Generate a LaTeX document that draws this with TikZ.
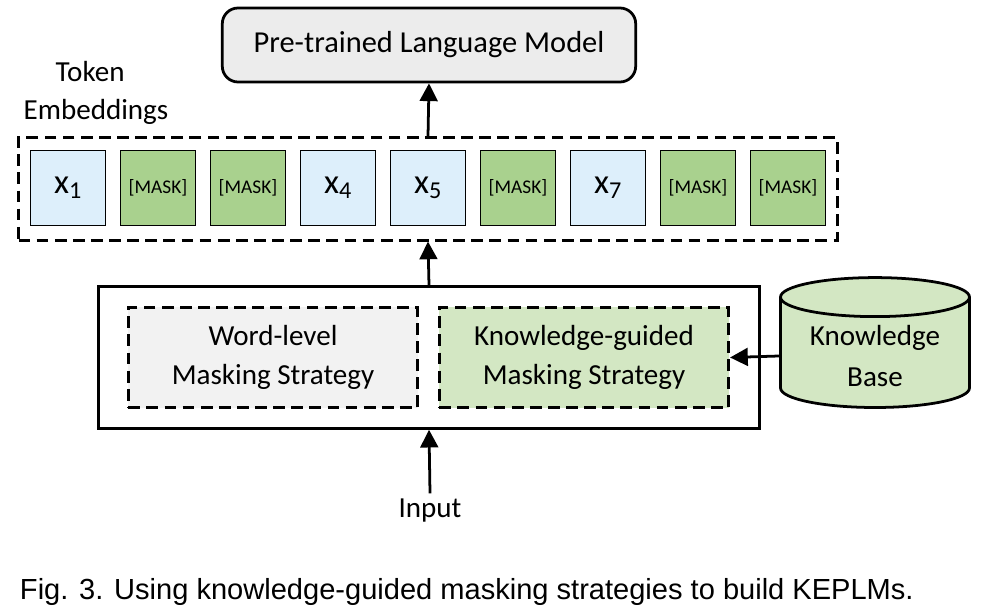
\documentclass[tikz,border=0pt]{standalone}
\usepackage{fontspec}
\setmainfont{Carlito}
\newfontfamily\capfont{Liberation Sans}
\usetikzlibrary{arrows.meta,positioning,shapes.geometric}
\definecolor{tokblue}{HTML}{DDEFFB}
\definecolor{tokgreen}{HTML}{A9D18E}
\definecolor{kggreen}{HTML}{D3E7C3}
\begin{document}
\begin{tikzpicture}[x=0.254mm,y=-0.254mm,>={Triangle[length=4.5mm,width=4.5mm]},line width=2pt,
    dsh/.style={dash pattern=on 3mm off 1.6mm},
    tok/.style={draw,line width=0.6pt,minimum width=19mm,minimum height=19mm,inner sep=0pt},
    xtok/.style={tok,fill=tokblue,font=\fontsize{25}{27}\selectfont},
    mtok/.style={tok,fill=tokgreen,font=\fontsize{14}{16}\selectfont},
    strat/.style={draw,dsh,minimum width=73.5mm,minimum height=25.5mm,align=center,font=\fontsize{21}{28}\selectfont}]
  \useasboundingbox (0,0) rectangle (982,616);
  % language model
  \node[draw,rounded corners=4mm,fill=gray!15,minimum width=105mm,minimum height=18.8mm,
        font=\fontsize{22}{24}\selectfont] (lm) at (429,45) {Pre-trained Language Model};
  \node[align=left,font=\fontsize{21}{27}\selectfont] (lbl) at (96,93) {\hspace*{1.1em}Token\\Embeddings};
  % token embeddings
  \node[draw,dsh,minimum width=208mm,minimum height=26mm] (emb) at (428,189) {};
  \node[xtok] (t1) at (68,188) {x\textsubscript{1}};
  \node[mtok] (t2) at (158,188) {[MASK]};
  \node[mtok] (t3) at (248,188) {[MASK]};
  \node[xtok] (t4) at (338,188) {x\textsubscript{4}};
  \node[xtok] (t5) at (428,188) {x\textsubscript{5}};
  \node[mtok] (t6) at (518,188) {[MASK]};
  \node[xtok] (t7) at (608,188) {x\textsubscript{7}};
  \node[mtok] (t8) at (698,188) {[MASK]};
  \node[mtok] (t9) at (788,188) {[MASK]};
  % masking
  \node[draw,minimum width=168mm,minimum height=36mm] (mask) at (429,357.5) {};
  \node[strat,fill=gray!10] (word) at (273,357.5) {Word-level\\Masking Strategy};
  \node[strat,fill=kggreen] (kg) at (584,357.5) {Knowledge-guided\\Masking Strategy};
  \node[draw,cylinder,shape border rotate=90,aspect=0.28,fill=kggreen,minimum width=48mm,
        minimum height=33mm,align=center,font=\fontsize{21}{30}\selectfont] (kb) at (875,356) {Knowledge\\Base};
  \node[font=\fontsize{21}{24}\selectfont] (in) at (430,511) {Input};
  % arrows
  \draw[->] (emb.north) -- (lm.south);
  \draw[->] (mask.north) -- (emb.south);
  \draw[->] (in.north) -- (mask.south);
  \draw[->] (kb.west) -- (kg.east);
  % caption
  \node[anchor=west,font=\capfont\fontsize{21}{24}\selectfont] (cap) at (14,592)
    {Fig. 3. Using knowledge-guided masking strategies to build KEPLMs.};
\end{tikzpicture}
\end{document}
